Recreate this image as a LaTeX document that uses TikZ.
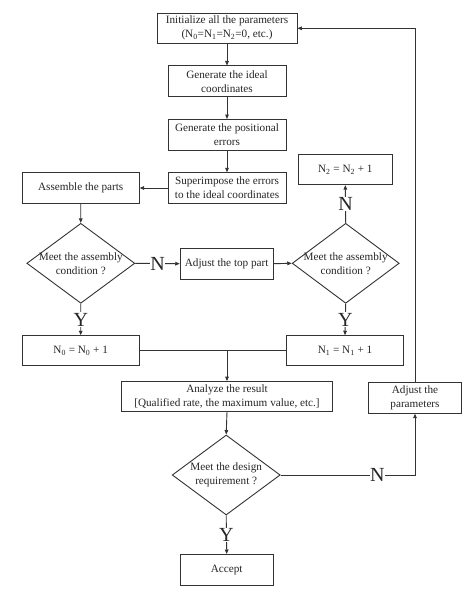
\documentclass[tikz,border=0pt]{standalone}
\usepackage{fontspec}
\setmainfont{Liberation Serif}
\usetikzlibrary{arrows.meta,shapes.geometric,calc}
\begin{document}
\begin{tikzpicture}[x=1pt,y=-1pt,
  line width=0.9pt, draw=black!80,
  every node/.style={font=\fontsize{11.2}{14}\selectfont, text=black!85},
  box/.style={draw=black!80, line width=0.9pt, rectangle, align=center, inner sep=0pt, minimum height=30.5pt},
  dia/.style={draw=black!80, line width=0.9pt, diamond, inner sep=0pt, minimum width=108pt, minimum height=80pt},
  yn/.style={font=\fontsize{20}{20}\selectfont, fill=white, inner sep=0.5pt},
  arr/.style={-{Triangle[length=4.5pt,width=3.6pt]}, draw=black!80, line width=0.9pt},
  ln/.style={draw=black!80, line width=0.9pt}]
\useasboundingbox (0,0) rectangle (474,594);
\fill[white] (0,0) rectangle (474,594);

\node[box, minimum width=140pt] (init) at (227,28.3) {Initialize all the parameters\\(N\textsubscript{0}=N\textsubscript{1}=N\textsubscript{2}=0, etc.)};
\node[box, minimum width=118pt] (gen1) at (227,81.2) {Generate the ideal\\coordinates};
\node[box, minimum width=118pt] (gen2) at (227,134.7) {Generate the positional\\errors};
\node[box, minimum width=118pt] (sup) at (227,188) {Superimpose the errors\\to the ideal coordinates};
\node[box, minimum width=117pt] (asm) at (80.7,188) {Assemble the parts};
\node[box, minimum width=94pt, minimum height=30pt] (n2) at (345.3,169.7) {N\textsubscript{2} = N\textsubscript{2} + 1};

\node[dia] (d1) at (80.8,263.3) {};
\node[align=center] (d1t) at (d1.center) {Meet the assembly\\condition ?};
\node[box, minimum width=93pt] (adj) at (226.7,263.7) {Adjust the top part};
\node[dia, minimum width=107pt] (d2) at (345.7,263.3) {};
\node[align=center] (d2t) at (d2.center) {Meet the assembly\\condition ?};

\node[box, minimum width=117pt, minimum height=30pt] (n0) at (80.7,350.7) {N\textsubscript{0} = N\textsubscript{0} + 1};
\node[box, minimum width=117pt, minimum height=30pt] (n1) at (345,350.7) {N\textsubscript{1} = N\textsubscript{1} + 1};

\node[box, minimum width=211pt, minimum height=29.5pt] (ana) at (227,396.3) {Analyze the result\\{[}Qualified rate, the maximum value, etc.{]}};
\node[dia] (d3) at (226.2,475) {};
\node[align=center] (d3t) at (d3.center) {Meet the design\\requirement ?};
\node[box, minimum width=93pt] (adjp) at (415,398) {Adjust the\\parameters};
\node[box, minimum width=93pt] (acc) at (226.7,569.7) {Accept};

\coordinate (j) at ($(n0.east)!0.5!(n1.west)$);
\coordinate (j) at (ana.north |- n0.east);

\draw[arr] (init) -- (gen1);
\draw[arr] (gen1) -- (gen2);
\draw[arr] (gen2) -- (sup);
\draw[arr] (sup) -- (asm);
\draw[arr] (asm) -- (d1);
\draw[arr] (d1.east) -- node[yn]{N} (adj.west);
\draw[arr] (adj.east) -- (d2.west);
\draw[arr] (d2.north) -- node[yn]{N} (n2.south);
\draw[arr] (d1.south) -- node[yn]{Y} (n0.north);
\draw[arr] (d2.south) -- node[yn]{Y} (n1.north);
\draw[ln] (n0.east) -- (n1.west);
\draw[arr] (j) -- (ana.north);
\draw[arr] (ana.south) -- (d3.north);
\draw[arr] (d3.south) -- node[yn]{Y} (acc.north);
\draw[arr] (d3.east) -- node[yn, pos=0.72]{N} (d3.east -| adjp) -- (adjp.south);
\draw[arr] (adjp.north) -- (adjp |- init) -- (init.east);
\end{tikzpicture}
\end{document}
